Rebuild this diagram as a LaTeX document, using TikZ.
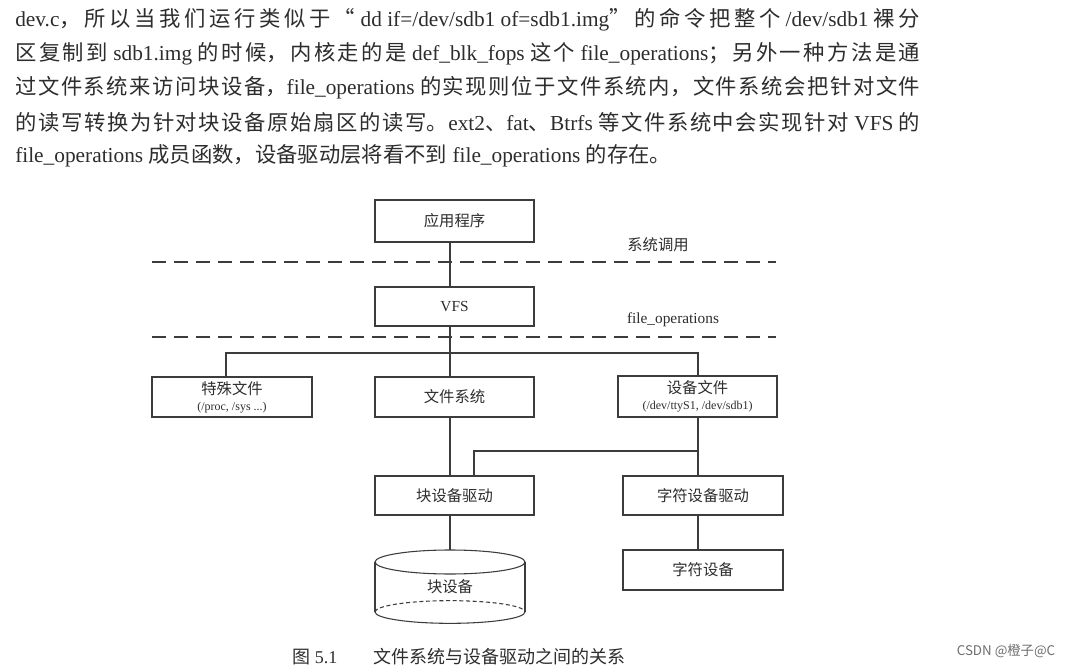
\documentclass[tikz,border=0pt]{standalone}
\usepackage{fontspec}
\setmainfont{Noto Sans CJK SC}
\newfontfamily\lat{Liberation Serif}
\definecolor{txt}{RGB}{45,45,45}
\definecolor{ln}{RGB}{60,60,60}
\definecolor{wmc}{RGB}{110,110,110}
\newcommand{\lt}[1]{\mbox{\lat #1}}
\newcommand{\jline}[1]{\parbox{678.75pt}{\XeTeXlinebreaklocale "zh"\XeTeXlinebreakskip=0pt plus 6pt minus 1.2pt\parindent=0pt\parfillskip=0pt\relax #1}}
\begin{document}
\begin{tikzpicture}[x=0.75pt,y=-0.75pt,
  bodyline/.style={anchor=west,inner sep=0pt,text=txt,font=\fontsize{16pt}{18pt}\selectfont},
  box/.style={draw=ln,line width=0.8pt,inner sep=0pt,text=txt,align=center,font=\fontsize{11.5pt}{13pt}\selectfont},
  dashline/.style={draw=ln,line width=0.9pt,dash pattern=on 10.5pt off 6pt},
  conn/.style={draw=ln,line width=0.8pt},
  lbl/.style={inner sep=0pt,text=txt,font=\fontsize{11.5pt}{13pt}\selectfont}]
\useasboundingbox[fill=white] (0,0) rectangle (1067,666);

% paragraph text
\node[bodyline] (t1) at (15,20) {\jline{\lt{dev.c}，所以当我们运行类似于“\lt{\ dd if=/dev/sdb1 of=sdb1.img}”的命令把整个\lt{\ /dev/sdb1\ }裸分}};
\node[bodyline] (t2) at (15,54) {\jline{区复制到\lt{\ sdb1.img\ }的时候，内核走的是\lt{\ def\_blk\_fops\ }这个\lt{\ file\_operations}；另外一种方法是通}};
\node[bodyline] (t3) at (15,88) {\jline{过文件系统来访问块设备，\lt{file\_operations\ }的实现则位于文件系统内，文件系统会把针对文件}};
\node[bodyline] (t4) at (15,122) {\jline{的读写转换为针对块设备原始扇区的读写。\lt{ext2}、\lt{fat}、\lt{Btrfs\ }等文件系统中会实现针对\lt{\ VFS\ }的}};
\node[bodyline] (t5) at (15,156) {\lt{file\_operations\ }成员函数，设备驱动层将看不到\lt{\ file\_operations\ }的存在。};

% dashed layer lines
\coordinate (d1a) at (152,262); \coordinate (d1b) at (776,262);
\coordinate (d2a) at (152,337); \coordinate (d2b) at (776,337);
\draw[dashline] (d1a) -- (d1b);
\draw[dashline] (d2a) -- (d2b);
\node[lbl] (sc) at (658,245) {系统调用};
\node[lbl] (fo) at (673,320) {\lat file\_operations};

% boxes
\node[box,minimum width=119.25pt,minimum height=31.5pt] (app) at (454.5,221) {应用程序};
\node[box,minimum width=119.25pt,minimum height=29.25pt] (vfs) at (454.5,306.5) {\lat VFS};
\node[box,minimum width=120pt,minimum height=30pt] (spec) at (232,397) {特殊文件\\[-1pt]{\lat\fontsize{9pt}{10pt}\selectfont (/proc, /sys ...)}};
\node[box,minimum width=119.25pt,minimum height=30pt] (fs) at (454.5,397) {文件系统};
\node[box,minimum width=119.25pt,minimum height=30.75pt] (devf) at (697.5,396.5) {设备文件\\[-1pt]{\lat\fontsize{9pt}{10pt}\selectfont (/dev/ttyS1, /dev/sdb1)}};
\node[box,minimum width=119.25pt,minimum height=29.25pt] (bdrv) at (454.5,495.5) {块设备驱动};
\node[box,minimum width=120pt,minimum height=29.25pt] (cdrv) at (703,495.5) {字符设备驱动};
\node[box,minimum width=120pt,minimum height=30pt] (cdev) at (703,570) {字符设备};

% cylinder (block device)
\node[inner sep=0pt,minimum width=112.5pt,minimum height=55.5pt,text=txt,font=\fontsize{11.5pt}{13pt}\selectfont] (bdev) at (450,587) {块设备};
\draw[conn] (450,562) ellipse [x radius=56.25pt, y radius=9pt];
\draw[conn] (375,562) -- (375,612);
\draw[conn] (525,562) -- (525,612);
\draw[conn] (375,612) arc[start angle=180,end angle=360,x radius=56.25pt,y radius=8.5pt];
\draw[conn,dash pattern=on 3pt off 2pt] (375,612) arc[start angle=180,end angle=0,x radius=56.25pt,y radius=8.5pt];

% trunk coordinates
\coordinate (tx) at (450,0);
\coordinate (rx) at (698,0);
\coordinate (lx) at (226,0);
\coordinate (bx) at (474,0);
\coordinate (j1) at (450,353);
\coordinate (j2) at (698,451);

% connectors
\draw[conn] (app.south -| tx) -- (vfs.north -| tx);
\draw[conn] (vfs.south -| tx) -- (fs.north -| tx);
\draw[conn] (spec.north -| lx) -- (j1 -| lx) -- (j1 -| rx) -- (devf.north -| rx);
\draw[conn] (devf.south -| rx) -- (cdrv.north -| rx);
\draw[conn] (j2) -- (j2 -| bx) -- (bdrv.north -| bx);
\draw[conn] (fs.south -| tx) -- (bdrv.north -| tx);
\draw[conn] (bdrv.south -| tx) -- (bdev.north -| tx);
\draw[conn] (cdrv.south -| rx) -- (cdev.north -| rx);

% caption and watermark
\node[anchor=west,inner sep=0pt,text=txt,font=\fontsize{13.5pt}{15pt}\selectfont] (cap) at (292,657) {图{\lat\ 5.1}\hspace{2em}文件系统与设备驱动之间的关系};
\node[inner sep=0pt,text=wmc,font=\fontsize{10pt}{11pt}\selectfont] (wm) at (1006,651) {CSDN @橙子@C};
\end{tikzpicture}
\end{document}
